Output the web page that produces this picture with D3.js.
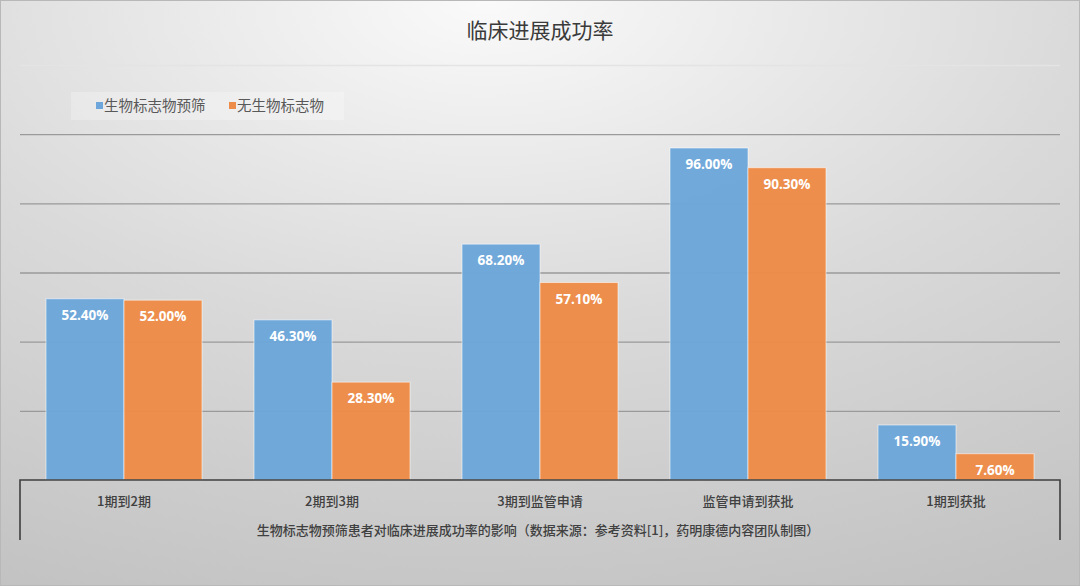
<!DOCTYPE html>
<html>
<head>
<meta charset="utf-8">
<script src="https://cdn.jsdelivr.net/npm/d3@7"></script>
<style>
  html, body { margin: 0; padding: 0; background: #fff; }
  svg { display: block; }
</style>
</head>
<body>
<div id="parentdiv" style="width:1080px;height:586px;"><svg id="chart"></svg></div>
<script>
const width = 1080;
const height = 586;

var title = "临床进展成功率";
var caption = "生物标志物预筛患者对临床进展成功率的影响（数据来源：参考资料[1]，药明康德内容团队制图）";
var categories = ["1期到2期", "2期到3期", "3期到监管申请", "监管申请到获批", "1期到获批"];
var series_names = ["生物标志物预筛", "无生物标志物"];
var with_biomarker = [52.4, 46.3, 68.2, 96.0, 15.9];
var without_biomarker = [52.0, 28.3, 57.1, 90.3, 7.6];
var y_ticks = [20, 40, 60, 80, 100, 120];

var colors = ["#6ca6da", "#ed8b48"];
var cjk = "'Noto Sans CJK SC', 'Noto Sans', sans-serif";

var svg = d3.select("#chart")
    .attr("width", width)
    .attr("height", height);

// background gradient
var defs = svg.append("defs");
var grad = defs.append("radialGradient")
    .attr("id", "bg")
    .attr("cx", "45%").attr("cy", "0%")
    .attr("r", "110%")
    .attr("fx", "45%").attr("fy", "0%");
grad.append("stop").attr("offset", "0%").attr("stop-color", "#fafafa");
grad.append("stop").attr("offset", "50%").attr("stop-color", "#dadada");
grad.append("stop").attr("offset", "100%").attr("stop-color", "#c2c2c2");

svg.append("rect")
    .attr("x", 0.5).attr("y", 0.5)
    .attr("width", width - 1).attr("height", height - 1)
    .attr("fill", "url(#bg)")
    .attr("stroke", "#b8b8b8");

var plotLeft = 20, plotRight = 1060, plotTop = 65, plotBase = 480;

var xScale = d3.scaleBand().domain(categories).range([plotLeft, plotRight]);
var xInner = d3.scaleBand().domain(series_names)
    .range([26, xScale.bandwidth() - 26]);
var yScale = d3.scaleLinear().domain([0, 120]).range([plotBase, plotTop]);

// gridlines
svg.append("g")
    .attr("class", "grid")
    .attr("transform", "translate(" + plotLeft + ",0)")
    .call(d3.axisLeft(yScale).tickValues(y_ticks).tickSize(-(plotRight - plotLeft)).tickFormat(""))
    .call(g => g.select(".domain").remove())
    .call(g => g.selectAll(".tick line")
        .attr("stroke", (d) => d == 120 ? "#e4e4e4" : "#9a9a9a")
        .attr("stroke-width", (d) => d == 120 ? 1.5 : 1.3));

// title
svg.append("text")
    .attr("x", 540).attr("y", 38)
    .attr("text-anchor", "middle")
    .attr("font-family", cjk)
    .attr("font-size", 21)
    .attr("fill", "#3a3a3a")
    .text(title);

// legend
var legend = svg.append("g");
legend.append("rect")
    .attr("x", 71).attr("y", 92)
    .attr("width", 273).attr("height", 28)
    .attr("fill", "#ffffff").attr("opacity", 0.25);
var legendX = [96, 229];
series_names.forEach(function (name, i) {
    legend.append("rect")
        .attr("x", legendX[i]).attr("y", 102)
        .attr("width", 7).attr("height", 7)
        .attr("fill", colors[i]);
    legend.append("text")
        .attr("x", legendX[i] + 8).attr("y", 111)
        .attr("font-family", cjk)
        .attr("font-size", 14.5)
        .attr("fill", "#595959")
        .text(name);
});

// bars
var rows = categories.map(function (c, i) {
    return { cat: c, values: [with_biomarker[i], without_biomarker[i]] };
});

var groups = svg.selectAll(".group")
    .data(rows)
    .enter()
    .append("g")
    .attr("class", "group")
    .attr("transform", (d) => "translate(" + xScale(d.cat) + ",0)");

groups.selectAll("rect")
    .data((d) => d.values.map((v, i) => ({ name: series_names[i], value: v, i: i })))
    .enter()
    .append("rect")
    .attr("x", (d) => xInner(d.name))
    .attr("y", (d) => yScale(d.value))
    .attr("width", xInner.bandwidth())
    .attr("height", (d) => plotBase - yScale(d.value))
    .attr("fill", (d) => colors[d.i])
    .attr("fill-opacity", 0.97)
    .attr("stroke", "#ffffff")
    .attr("stroke-opacity", 0.55)
    .attr("stroke-width", 1);

groups.selectAll(".label")
    .data((d) => d.values.map((v, i) => ({ name: series_names[i], value: v, i: i })))
    .enter()
    .append("text")
    .attr("class", "label")
    .attr("x", (d) => xInner(d.name) + xInner.bandwidth() / 2)
    .attr("y", (d) => yScale(d.value) + 21)
    .attr("text-anchor", "middle")
    .attr("font-family", "'Open Sans', 'Noto Sans', sans-serif")
    .attr("font-weight", "bold")
    .attr("font-size", 13.5)
    .attr("fill", "#ffffff")
    .text((d) => d.value.toFixed(2) + "%");

// axis frame
svg.append("path")
    .attr("d", "M" + plotLeft + "," + (plotBase + 60) + "V" + plotBase + "H" + plotRight + "V" + (plotBase + 60))
    .attr("fill", "none")
    .attr("stroke", "#3f3f3f")
    .attr("stroke-width", 1.6);

// category labels
svg.append("g")
    .selectAll("text")
    .data(categories)
    .enter()
    .append("text")
    .attr("x", (d) => xScale(d) + xScale.bandwidth() / 2)
    .attr("y", 506)
    .attr("text-anchor", "middle")
    .attr("font-family", cjk)
    .attr("font-size", 13)
    .attr("font-weight", 500)
    .attr("fill", "#404040")
    .text((d) => d);

svg.append("text")
    .attr("x", 538).attr("y", 535)
    .attr("text-anchor", "middle")
    .attr("font-family", cjk)
    .attr("font-size", 13)
    .attr("font-weight", 500)
    .attr("fill", "#404040")
    .text(caption);
</script>
</body>
</html>
